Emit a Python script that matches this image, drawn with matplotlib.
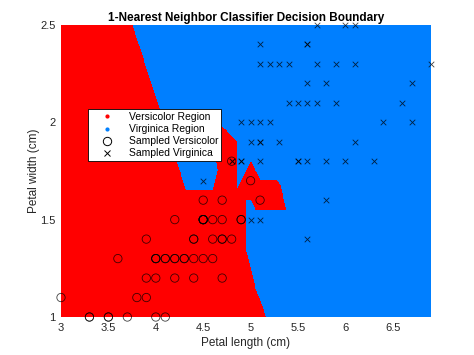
import numpy as np
import matplotlib
matplotlib.use("Agg")
import matplotlib.pyplot as plt
from matplotlib.lines import Line2D

plt.rcParams['font.family'] = ['Liberation Sans', 'DejaVu Sans']

# iris petal measurements (cm)
versicolor_len = [4.7, 4.5, 4.9, 4.0, 4.6, 4.5, 4.7, 3.3, 4.6, 3.9, 3.5, 4.2, 4.0, 4.7, 3.6, 4.4, 4.5,
                  4.1, 4.5, 3.9, 4.8, 4.0, 4.9, 4.7, 4.3, 4.4, 4.8, 5.0, 4.5, 3.5, 3.8, 3.7, 3.9, 5.1,
                  4.5, 4.5, 4.7, 4.4, 4.1, 4.0, 4.4, 4.6, 4.0, 3.3, 4.2, 4.2, 4.2, 4.3, 3.0, 4.1]
versicolor_wid = [1.4, 1.5, 1.5, 1.3, 1.5, 1.3, 1.6, 1.0, 1.3, 1.4, 1.0, 1.5, 1.0, 1.4, 1.3, 1.4, 1.5,
                  1.0, 1.5, 1.1, 1.8, 1.3, 1.5, 1.2, 1.3, 1.4, 1.4, 1.7, 1.5, 1.0, 1.1, 1.0, 1.2, 1.6,
                  1.5, 1.6, 1.5, 1.3, 1.3, 1.3, 1.2, 1.4, 1.2, 1.0, 1.3, 1.2, 1.3, 1.3, 1.1, 1.3]
virginica_len = [6.0, 5.1, 5.9, 5.6, 5.8, 6.6, 4.5, 6.3, 5.8, 6.1, 5.1, 5.3, 5.5, 5.0, 5.1, 5.3, 5.5,
                 6.7, 6.9, 5.0, 5.7, 4.9, 6.7, 4.9, 5.7, 6.0, 4.8, 4.9, 5.6, 5.8, 6.1, 6.4, 5.6, 5.1,
                 5.6, 6.1, 5.6, 5.5, 4.8, 5.4, 5.6, 5.1, 5.1, 5.9, 5.7, 5.2, 5.0, 5.2, 5.4, 5.1]
virginica_wid = [2.5, 1.9, 2.1, 1.8, 2.2, 2.1, 1.7, 1.8, 1.8, 2.5, 2.0, 1.9, 2.1, 2.0, 2.4, 2.3, 1.8,
                 2.2, 2.3, 1.5, 2.3, 2.0, 2.0, 1.8, 2.1, 1.8, 1.8, 1.8, 2.1, 1.6, 1.9, 2.0, 2.2, 1.5,
                 1.4, 2.3, 2.4, 1.8, 1.8, 2.1, 2.4, 2.3, 1.9, 2.3, 2.5, 2.3, 1.9, 2.0, 2.3, 1.8]

x_ticks = [3, 3.5, 4, 4.5, 5, 5.5, 6, 6.5]
y_ticks = [1, 1.5, 2, 2.5]

RED = (1.0, 0.0, 0.0)
BLUE = (0.0, 0.5, 1.0)

# training set: versicolor first so exact ties go to versicolor
train_x = np.array(versicolor_len + virginica_len)
train_y = np.array(versicolor_wid + virginica_wid)
train_lab = np.array([0] * len(versicolor_len) + [1] * len(virginica_len))

x_min, x_max = 3.0, 6.9
y_min, y_max = 1.0, 2.5
step = 0.005
gx = np.arange(x_min + step / 2, x_max, step)
gy = np.arange(y_min + step / 2, y_max, step)
GX, GY = np.meshgrid(gx, gy)
d2 = (GX[..., None] - train_x) ** 2 + (GY[..., None] - train_y) ** 2
pred = train_lab[np.argmin(d2, axis=-1)]

fig = plt.figure(figsize=(4.74, 3.55), dpi=100)
ax = fig.add_axes([0.1287, 0.107, 0.78, 0.823])

rgb = np.where(pred[..., None] == 0, np.array(RED), np.array(BLUE))
ax.imshow(rgb, origin='lower', extent=[x_min, x_max, y_min, y_max],
          aspect='auto', interpolation='nearest')

ax.scatter(versicolor_len, versicolor_wid, s=36, facecolors='none',
           edgecolors='black', linewidths=0.6, alpha=0.75, zorder=3, clip_on=False)
ax.scatter(virginica_len, virginica_wid, s=16, marker='x', color='black',
           linewidths=0.6, alpha=0.75, zorder=3, clip_on=False)

ax.set_xlim(x_min, x_max)
ax.set_ylim(y_min, y_max)
ax.set_xticks(x_ticks)
ax.set_xticklabels([f"{t:g}" for t in x_ticks])
ax.set_yticks(y_ticks)
ax.set_yticklabels([f"{t:g}" for t in y_ticks])
for s in ax.spines.values():
    s.set_visible(False)
ax.tick_params(length=0, labelsize=8, colors='#262626', pad=4)

ax.set_title("1-Nearest Neighbor Classifier Decision Boundary", fontsize=8.5,
             fontweight='bold', pad=3)
ax.set_xlabel("Petal length (cm)", fontsize=8.5, color='#262626', labelpad=3)
ax.set_ylabel("Petal width (cm)", fontsize=8.5, color='#262626', labelpad=0)

handles = [
    Line2D([], [], linestyle='none', marker='.', color=RED, markersize=4),
    Line2D([], [], linestyle='none', marker='.', color=BLUE, markersize=4),
    Line2D([], [], linestyle='none', marker='o', markerfacecolor='none',
           markeredgecolor='black', markersize=6, markeredgewidth=0.7),
    Line2D([], [], linestyle='none', marker='x', color='black', markersize=4,
           markeredgewidth=0.7),
]
labels = ["Versicolor Region", "Virginica Region", "Sampled Versicolor", "Sampled Virginica"]
leg = ax.legend(handles, labels, loc='upper left', bbox_to_anchor=(0.073, 0.712),
                borderaxespad=0, fontsize=7.5, frameon=True, fancybox=False,
                framealpha=1, edgecolor='black', handlelength=3.1, handletextpad=0.5,
                labelspacing=0.2, borderpad=0.3)
leg.get_frame().set_linewidth(0.6)

fig.savefig("out.png", dpi=100)
